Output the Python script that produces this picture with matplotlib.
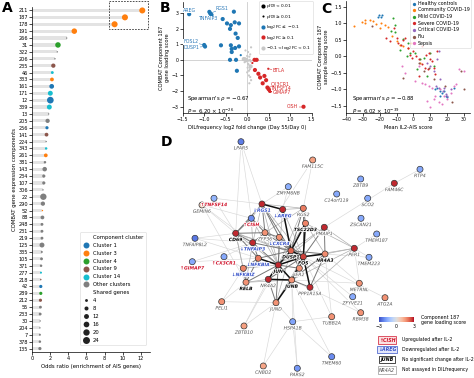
"""Four-panel figure: component enrichment (A), gene/sample loading scatters (B, C)
and the component 187 gene network (D). Saved as out.png (474x378 px)."""
import matplotlib

matplotlib.use("Agg")
import matplotlib.pyplot as plt
import matplotlib.patheffects as pe
from matplotlib.lines import Line2D
from matplotlib.patches import Rectangle
from matplotlib.cm import ScalarMappable
from matplotlib.colors import Normalize
import numpy as np

W, H = 474, 378

# ---------------- panel A: odds ratio per component
COMPONENTS = [211, 187, 178, 191, 266, 31, 322, 206, 235, 46, 333, 161, 171, 12, 339, 13, 205,
              256, 141, 224, 343, 261, 381, 143, 234, 107, 306, 22, 290, 52, 88, 248, 231, 219,
              125, 335, 105, 371, 277, 218, 42, 289, 212, 55, 233, 30, 204, 7, 378, 135]
ODDS = [12.15, 10.24, 9.1, 4.66, 3.82, 2.86, 2.79, 2.53, 2.35, 2.24, 2.2, 2.17, 2.02, 2.02, 1.91,
        1.83, 1.72, 1.65, 1.6, 1.56, 1.56, 1.52, 1.43, 1.4, 1.3, 1.3, 1.21, 1.25, 1.2, 1.15, 1.15,
        1.1, 1.1, 1.1, 1.1, 1.08, 1.05, 1.0, 0.99, 0.97, 0.97, 0.97, 0.93, 0.93, 0.9, 0.9, 0.87,
        0.87, 0.87, 0.87]
CLUSTER = ["3", "3", "3", "3", "o", "4", "o", "o", "9", "14", "3", "1", "14", "1", "14", "o", "o",
           "1", "9", "o", "14", "3", "o", "o", "o", "o", "o", "o", "o", "3", "o", "o", "o", "o",
           "o", "o", "o", "o", "14", "9", "1", "4", "9", "o", "o", "o", "o", "o", "o", "o"]
SHARED = [18, 18, 18, 15, 1, 15, 1, 1, 9, 4, 7, 11, 12, 22, 12, 1, 9, 5, 7, 1, 3, 7, 3, 10, 5, 5,
          1, 20, 9, 1, 7, 4, 4, 4, 12, 2, 4, 3, 2, 1, 5, 5, 5, 4, 4, 1, 1, 2, 3, 5]
CLUSTER_NAMES = {"1": "Cluster 1", "3": "Cluster 3", "4": "Cluster 4", "9": "Cluster 9",
                 "14": "Cluster 14", "o": "Other clusters"}
CLUSTER_COLORS = {"1": "#1f77b4", "3": "#ff7f0e", "4": "#2ca02c", "9": "#8c564b",
                  "14": "#17becf", "o": "#7f7f7f"}
SHARED_LEGEND = [4, 8, 12, 16, 20, 24]

# ---------------- panel B: fold change vs gene loading
B_X = [-1.35, -0.88, -0.86, -0.83, -0.31, -0.57, -0.47, -0.38, -0.29, -0.19, -0.40, -0.27, -0.22,
       -1.0, -0.98, -0.61, -0.38, -0.36, -0.36, -0.28, -0.19, -0.40, -0.26, -0.24, -0.15,
       0.17, 0.22, 0.08, 0.18, 0.26, 0.30, 0.40, 0.44, 0.47, 0.50, 0.53, 1.31, 0.36, 0.49, 0.12,
       0.02, 0.05, -0.05, 0.08, 0.03, 0.06, 0.0, 0.04, 0.09, -0.02, -0.08, 0.07, 0.01, 0.05,
       -0.06, 0.09, 0.03, -0.03, 0.06, -0.09, 0.0, 0.04, 0.07, -0.04, 0.02]
B_Y = [2.92, 3.07, 2.97, 2.88, 3.08, 2.61, 2.33, 2.22, 2.4, 2.33, 1.98, 1.68, 1.4,
       0.95, 0.85, 0.93, 0.93, 0.7, 0.5, 0.76, 0.86, 0.0, 0.0, -0.7, 0.3,
       0.0, 0.0, -0.42, -0.65, -0.89, -1.13, -1.03, -1.3, -1.77, -1.88, -1.99, -3.0, -1.5, -0.57,
       -0.2,
       0.5, 0.2, 0.1, -0.1, -0.3, -0.6, -0.8, -1.0, -1.3, 0.0, 0.05, 0.35, -0.5, -1.5,
       -0.15, 0.8, -0.05, -0.1, 0.0, 0.0, 0.25, -0.7, -1.1, 0.6, -0.25]
B_SIG = [1] * 24 + [0] + [1] * 13 + [0, 0] + [0] * 9 + [1, 1] + [0] * 14
B_LABELS = [("AREG", -1.35, 2.92, -1.33, 3.17), ("RGS1", -0.86, 2.98, -0.58, 3.27),
            ("TNFAIP3", -0.85, 2.93, -0.9, 2.63), ("FOSL2", -1.0, 0.95, -1.3, 1.15),
            ("DUSP1", -0.98, 0.85, -1.29, 0.78), ("BTLA", 0.49, -0.57, 0.72, -0.7),
            ("CX3CR1", 0.47, -1.77, 0.78, -1.6), ("TNFSF14", 0.50, -1.88, 0.8, -1.84),
            ("GIMAP7", 0.53, -1.99, 0.8, -2.08), ("CISH", 1.31, -3.0, 1.06, -3.0)]

# ---------------- panel C: IL2-AIS vs sample loading, by group
C_GROUPS = ["Healthy controls", "Community COVID-19", "Mild COVID-19", "Severe COVID-19",
            "Critical COVID-19", "Flu", "Sepsis"]
C_COLORS = ["#1f77b4", "#ff7f0e", "#2ca02c", "#d62728", "#9467bd", "#8c564b", "#e377c2"]
C_X = [
    [-20.5, -19.5, -18.5, -21, 14, 15.5, 17, 18, 16, 13, 19, 20, 24],
    [-35.5, -30.5, -29, -28.5, -26, -24, -22.5, -19, -17, -15, -13, -8, -6, -3, -1.5, -20, 4, -10],
    [-12, -11, -13.5, -11, -6, -3.5, -2, 1, 4, 6, 10, 12, -8, 2, -4, 8],
    [-11.5, -16, -9, -7.5, -6, -5, -3, -2, 1.5, 3.5, 5, 7, 8.5, 10, 12, 14, 5, -1, 9, 11, 13, 3,
     -14, -10, 0, 7.5],
    [8, 10, 12, 15, 14, 16, 18, 17.5, 19, 13.5, 20, 22, 15],
    [-24.5, 3, 6, 9, 18.5, 28, 23, 30, -6, 12],
    [-5, 1, 5, 7, 9, 11, 13, 15, 17, 20, 22, 25, 27, 30, 8, 12, 18, 24, 3, -7, 10, 16],
]
C_Y = [
    [1.25, 1.2, 1.25, 1.18, -0.95, -1.05, -1.1, -1.05, -1.2, -1.0, -1.2, -1.25, -0.95],
    [0.92, 1.04, 1.01, 1.1, 1.08, 1.05, 0.98, 1.0, 0.95, 0.88, 0.6, 0.35, 0.3, 0.25, 0.4, 0.85,
     -0.2, 0.45],
    [1.15, 0.95, 0.75, 0.73, 0.52, 0.4, 0.1, 0.1, -0.1, -0.05, 0.1, -0.3, 0.2, -0.4, 0.0, -0.6],
    [0.85, 0.55, 0.4, 0.35, 0.5, 0.55, 0.25, 0.05, 0.0, -0.1, -0.25, -0.35, -0.4, -0.1, -0.35,
     0.15, 0.3, -0.05, 0.1, -0.15, -0.55, -0.6, 0.45, 0.55, 0.15, 0.05],
    [-0.2, -0.3, -0.45, 0.15, -0.1, -0.7, -0.95, -1.05, -1.15, -0.9, -1.2, -1.0, -0.95],
    [0.9, -0.2, -0.45, -0.35, -0.9, -0.45, -1.4, -1.0, -0.65, -0.7],
    [-0.5, -0.75, -0.8, -0.85, -0.9, -0.95, -1.2, -1.4, -1.45, -1.3, -1.1, -0.85, -0.4, -0.45,
     -1.35, -1.3, -1.2, -0.9, -0.3, -0.3, -1.55, -1.0],
]

# ---------------- panel D: network (layout in figure pixels)
GENES = ["LPAR5", "FAM115C", "ZMYM6NB", "TNFSF14", "GEMIN6", "RGS1", "AREG", "RGS2", "CISH",
         "TNFAIP8L2", "CD69", "ZFP36", "TSC22D3", "PMAIP1", "CXCR4", "TNFAIP3", "DUSP1", "FOS",
         "NR4A3", "PER1", "NFKBIA", "NFKBIZ", "GIMAP7", "CX3CR1", "JUN", "IER2", "NR4A2", "JUNB",
         "RELB", "PPP1R15A", "PELI1", "JUND", "ZBTB10", "HSPA1B", "CNBD2", "PARS2", "TUBB2A",
         "RBM38", "ATG2A", "METRNL", "ZFYVE21", "TMEM60", "TMEM223", "TMEM187", "ZSCAN21",
         "SCO2", "C14orf119", "ZBTB9", "FAM46C", "RTP4"]
NODE_X = [241, 312.7, 288.3, 214, 202, 262, 282.7, 303.3, 251.3, 195, 235.7, 265, 305.5, 324.3,
          279.3, 252.7, 291, 303.3, 325, 354.3, 258.3, 243.3, 192.3, 224, 278.3, 299.3, 268.3,
          291.7, 246, 310, 221.7, 276, 244, 292.7, 263.3, 297.3, 331.7, 360.7, 385, 359.3, 352.7,
          331.7, 369, 376.7, 361, 367.7, 336.7, 360.7, 394.3, 420]
NODE_Y = [141.7, 160, 186.7, 198.3, 205, 204, 209.5, 208.3, 218.3, 238.3, 233.3, 232.7, 223.3,
          227.3, 237.3, 242.7, 250.7, 256.7, 254, 248.3, 258.3, 268.3, 261.7, 256.7, 265, 268.3,
          279.3, 280, 282.3, 287.3, 301.7, 302.7, 326, 321.7, 366, 368.3, 316.7, 312.7, 297.7,
          283.3, 296.7, 356.7, 257.3, 234, 218.3, 198.3, 194, 179, 183.3, 169.3]
NODE_SCORE = [-2.3, 1.4, -1.5, -1.4, 0.6, 2.8, 2.8, 1.9, -2.1, -2.4, 2.8, 1.6, 1.8, 2.8, 1.6,
              2.8, 2.2, 2.6, 1.7, 2.8, 1.9, 1.8, -1.6, -1.6, 2.8, 1.6, 2.8, 1.6, 1.6, 2.8, 1.6,
              1.6, 1.4, -1.7, 1.3, -1.9, 1.6, 1.6, 1.6, 1.6, -1.6, -2.1, -1.6, -1.6, -1.6, -1.6,
              -1.6, -1.6, 2.8, -1.6]
NODE_STATUS = ["na", "na", "na", "up", "na", "down", "down", "na", "up", "na", "ns", "na", "ns",
               "na", "down", "down", "ns", "ns", "ns", "na", "down", "down", "up", "up", "ns",
               "na", "na", "ns", "ns", "na", "na", "na", "na", "na", "na", "na", "na", "na", "na",
               "na", "na", "na", "na", "na", "na", "na", "na", "na", "na", "na"]
EDGES_STRONG = [("RGS1", "AREG"), ("AREG", "DUSP1"), ("DUSP1", "FOS"), ("JUN", "FOS"),
                ("JUN", "JUNB"), ("JUNB", "JUND"), ("JUN", "NR4A2"), ("FOS", "JUNB"),
                ("DUSP1", "JUN"), ("TSC22D3", "DUSP1"), ("FOS", "PPP1R15A"), ("JUN", "NFKBIA"),
                ("NR4A2", "JUNB"), ("FOS", "NR4A3"), ("TSC22D3", "FOS")]
EDGES_MEDIUM = [("CD69", "TNFAIP3"), ("CD69", "NFKBIA"), ("CD69", "ZFP36"), ("RGS1", "CXCR4"),
                ("RGS1", "ZFP36"), ("RGS1", "DUSP1"), ("CISH", "ZFP36"), ("ZFP36", "CXCR4"),
                ("ZFP36", "DUSP1"), ("CXCR4", "DUSP1"), ("CXCR4", "JUN"), ("TNFAIP3", "NFKBIA"),
                ("TNFAIP3", "JUN"), ("NFKBIA", "NFKBIZ"), ("NFKBIZ", "RELB"), ("RELB", "NFKBIA"),
                ("RELB", "JUN"), ("NFKBIA", "DUSP1"), ("RGS2", "DUSP1"), ("RGS2", "TSC22D3"),
                ("RGS2", "FOS"), ("PMAIP1", "NR4A3"), ("PMAIP1", "FOS"), ("NR4A3", "DUSP1"),
                ("NR4A3", "JUNB"), ("IER2", "JUN"), ("IER2", "FOS"), ("IER2", "DUSP1"),
                ("IER2", "JUNB"), ("PPP1R15A", "JUNB"), ("PPP1R15A", "NR4A3"),
                ("JUND", "NR4A2"), ("JUND", "JUN"), ("CD69", "RGS1"), ("CD69", "CISH"),
                ("TNFAIP3", "DUSP1"), ("NR4A2", "FOS"), ("CXCR4", "FOS"), ("TNFAIP3", "ZFP36")]
EDGES_LIGHT = [("CD69", "JUN"), ("CD69", "FOS"), ("CD69", "DUSP1"), ("RGS1", "JUN"),
               ("RGS1", "FOS"), ("RGS1", "TNFAIP3"), ("CISH", "DUSP1"), ("CISH", "JUN"),
               ("CISH", "TNFAIP3"), ("AREG", "JUN"), ("AREG", "FOS"), ("RGS2", "JUN"),
               ("RGS2", "ZFP36"), ("TSC22D3", "JUN"), ("TSC22D3", "NR4A3"), ("PER1", "NR4A3"),
               ("PER1", "FOS"), ("PER1", "TSC22D3"), ("PER1", "PMAIP1"), ("PER1", "JUNB"),
               ("PER1", "PPP1R15A"), ("RELB", "JUNB"), ("NFKBIZ", "JUN"), ("NFKBIZ", "FOS"),
               ("NR4A2", "RELB"), ("JUND", "FOS"), ("JUND", "DUSP1"), ("PMAIP1", "DUSP1"),
               ("PMAIP1", "JUN"), ("RGS1", "RGS2"), ("AREG", "RGS2"), ("CD69", "RELB"),
               ("CD69", "NFKBIZ"), ("TNFAIP3", "RELB"), ("ZFP36", "JUN"), ("CISH", "RGS1")]
EDGES_FAINT = [("LPAR5", "RGS1"), ("LPAR5", "CD69"), ("FAM115C", "RGS2"), ("FAM115C", "ZFP36"),
               ("ZMYM6NB", "RGS1"), ("TNFSF14", "CD69"), ("TNFSF14", "RGS1"), ("GEMIN6", "CD69"),
               ("GEMIN6", "RELB"), ("TNFAIP8L2", "CD69"), ("TNFAIP8L2", "TNFAIP3"),
               ("GIMAP7", "NFKBIA"), ("GIMAP7", "TNFAIP3"), ("CX3CR1", "NFKBIZ"),
               ("CX3CR1", "TNFAIP3"), ("PELI1", "RELB"), ("PELI1", "NFKBIZ"), ("PELI1", "JUND"),
               ("ZBTB10", "JUND"), ("ZBTB10", "JUN"), ("HSPA1B", "JUND"), ("HSPA1B", "JUNB"),
               ("HSPA1B", "TUBB2A"), ("CNBD2", "JUND"), ("PARS2", "HSPA1B"), ("PARS2", "JUNB"),
               ("TUBB2A", "FOS"), ("TUBB2A", "NR4A3"), ("METRNL", "PER1"), ("METRNL", "NR4A3"),
               ("METRNL", "JUNB"), ("RBM38", "JUNB"), ("ZFYVE21", "METRNL"),
               ("TMEM60", "HSPA1B"), ("TMEM223", "PER1"), ("PMAIP1", "FAM46C"),
               ("FAM46C", "RTP4"), ("ATG2A", "FOS"), ("TMEM187", "PER1"), ("GEMIN6", "TNFAIP3"),
               ("CISH", "LPAR5"), ("RBM38", "FOS"), ("TMEM60", "JUNB"), ("ZMYM6NB", "AREG"),
               ("TNFAIP8L2", "NFKBIA"), ("GEMIN6", "CISH"), ("ZBTB10", "NR4A2"),
               ("CNBD2", "HSPA1B"), ("ZFYVE21", "FOS"), ("TMEM223", "NR4A3")]
LABEL_COLORS = {"up": "#d0142c", "down": "#3853c8", "ns": "black", "na": "#505050"}


def px_axes(fig, x0, y0, x1, y1):
    return fig.add_axes([x0 / W, 1 - y1 / H, (x1 - x0) / W, (y1 - y0) / H])


def style_axes(ax, fs=3.4):
    for side in ("top", "right"):
        ax.spines[side].set_visible(False)
    for side in ("left", "bottom"):
        ax.spines[side].set_linewidth(0.5)
    ax.tick_params(labelsize=fs, length=2, width=0.5, pad=1)


def main():
    fig = plt.figure(figsize=(W / 100, H / 100), dpi=100)

    # ---- A
    ax = px_axes(fig, 32, 7, 150, 352)
    n = len(COMPONENTS)
    y = np.arange(n)
    ax.barh(y, ODDS, height=0.45, color="#e3e3e3", zorder=1)
    ax.scatter(ODDS, y, s=np.array(SHARED) * 1.05, c=[CLUSTER_COLORS[c] for c in CLUSTER],
               lw=0, zorder=3)
    ax.set_ylim(n - 0.5, -0.5)
    ax.set_yticks(y, [str(c) for c in COMPONENTS])
    ax.set_xlim(0, 13)
    ax.set_xticks(range(0, 13, 2))
    style_axes(ax, 3.6)
    ax.set_xlabel("Odds ratio (enrichment of AIS genes)", fontsize=3.9, labelpad=2)
    ax.set_ylabel("COMBAT gene expression components", fontsize=3.9, labelpad=1)
    ax.add_patch(Rectangle((8.5, -1.3), 4.3, 4.05, fill=False, ls=(0, (2, 1.5)), lw=0.6,
                           ec="#333333", clip_on=False, zorder=4))
    handles = [Line2D([], [], ls="none", label="Component cluster")]
    for key in ["1", "3", "4", "9", "14", "o"]:
        handles.append(Line2D([], [], ls="none", marker="o", ms=4.3, mew=0,
                              color=CLUSTER_COLORS[key], label=CLUSTER_NAMES[key]))
    handles.append(Line2D([], [], ls="none", label="Shared genes"))
    for g in SHARED_LEGEND:
        handles.append(Line2D([], [], ls="none", marker="o", ms=np.sqrt(g * 1.05), mew=0,
                              color="#222222", label=str(g)))
    ax.legend(handles=handles, loc="lower right", bbox_to_anchor=(0.985, 0.012), fontsize=3.8,
              frameon=True, edgecolor="#cccccc", fancybox=True, handletextpad=0.6,
              labelspacing=0.55, borderpad=0.5, handlelength=1.2).get_frame().set_linewidth(0.4)

    # ---- B
    ax = px_axes(fig, 182.7, 2, 311.7, 113)
    bx, by, bs = np.array(B_X), np.array(B_Y), np.array(B_SIG, dtype=bool)
    bcol = np.where(bx <= -0.1, "#1f77b4", np.where(bx >= 0.1, "#d62728", "#c8c8c8"))
    ax.axhline(0, color="#cccccc", lw=0.6, zorder=0)
    ax.axvline(0, color="#cccccc", lw=0.6, zorder=0)
    ax.scatter(bx[bs], by[bs], s=9, c=bcol[bs], lw=0, zorder=3)
    ax.scatter(bx[~bs], by[~bs], s=2.5, c=bcol[~bs], lw=0, zorder=2)
    for name, px_, py_, tx, ty in B_LABELS:
        col = "#2a78b8" if px_ < 0 else "#d62728"
        ax.plot([px_, tx], [py_, ty], color=col, lw=0.35, zorder=2)
        ax.text(tx, ty, name, color=col, fontsize=3.4, ha="center", va="center",
                bbox=dict(fc="white", ec="none", pad=0.2), zorder=4)
    ax.set_xlim(-1.5, 1.5)
    ax.set_ylim(-3.4, 3.7)
    ax.set_xticks([-1.5, -1.0, -0.5, 0.0, 0.5, 1.0, 1.5])
    ax.set_yticks(range(-3, 4))
    style_axes(ax)
    ax.set_xlabel("DILfrequency log2 fold change (Day 55/Day 0)", fontsize=3.7, labelpad=2)
    ax.set_ylabel("COMBAT Component 187\ngene loading score", fontsize=3.7, labelpad=1)
    ax.text(-1.41, -2.2, "Spearman's $\\rho$ = $-$0.67\n$P$ = 6.20 $\\times$ 10$^{-26}$",
            fontsize=3.9, va="top", linespacing=1.5)
    bh = [Line2D([], [], ls="none", marker="o", ms=3.0, mew=0, color="black",
                 label=r"$p_\mathrm{FDR}<0.01$"),
          Line2D([], [], ls="none", marker="o", ms=1.5, mew=0, color="black",
                 label=r"$p_\mathrm{FDR}\geq0.01$"),
          Line2D([], [], ls="none", marker="o", ms=3.0, mew=0, color="#1f77b4",
                 label=r"$\log_2\mathrm{FC}\leq-0.1$"),
          Line2D([], [], ls="none", marker="o", ms=3.0, mew=0, color="#d62728",
                 label=r"$\log_2\mathrm{FC}\geq0.1$"),
          Line2D([], [], ls="none", marker="o", ms=3.0, mew=0, color="#c8c8c8",
                 label=r"$-0.1<\log_2\mathrm{FC}<0.1$")]
    ax.legend(handles=bh, loc="upper right", bbox_to_anchor=(1.015, 1.02), fontsize=3.2,
              edgecolor="#cccccc", handletextpad=0.3, labelspacing=0.55, borderpad=0.4,
              handlelength=0.9, borderaxespad=0.2).get_frame().set_linewidth(0.4)

    # ---- C
    ax = px_axes(fig, 346, 1, 470, 113)
    for name, col, xs, ys in zip(C_GROUPS, C_COLORS, C_X, C_Y):
        ax.scatter(xs, ys, s=2.2, color=col, lw=0, label=name)
    ax.set_xlim(-40, 33.5)
    ax.set_ylim(-1.72, 1.67)
    ax.set_xticks(range(-40, 31, 10))
    ax.set_yticks([-1.5, -1.0, -0.5, 0.0, 0.5, 1.0, 1.5])
    style_axes(ax)
    ax.set_xlabel("Mean IL2-AIS score", fontsize=3.7, labelpad=2)
    ax.set_ylabel("COMBAT Component 187\nsample loading score", fontsize=3.7, labelpad=1)
    ax.text(-36.5, -1.15, "Spearman's $\\rho$ = $-$0.88\n$P$ = 6.02 $\\times$ 10$^{-39}$",
            fontsize=3.9, va="top", linespacing=1.5)
    ax.legend(loc="upper right", bbox_to_anchor=(1.03, 1.04), fontsize=3.4, markerscale=1.6,
              edgecolor="#cccccc", handletextpad=0.4, labelspacing=0.35, borderpad=0.4,
              handlelength=0.8).get_frame().set_linewidth(0.4)

    # ---- D
    ax = px_axes(fig, 160, 130, 474, 378)
    ax.set_xlim(160, 474)
    ax.set_ylim(378, 130)
    ax.axis("off")
    pos = {g: (x, yy) for g, x, yy in zip(GENES, NODE_X, NODE_Y)}
    for edges, col, lw, z in [(EDGES_FAINT, "#d8d8d8", 0.45, 1), (EDGES_LIGHT, "#b0b0b0", 0.5, 2),
                              (EDGES_MEDIUM, "#777777", 0.7, 3), (EDGES_STRONG, "#111111", 1.1, 4)]:
        for a, b in edges:
            ax.plot([pos[a][0], pos[b][0]], [pos[a][1], pos[b][1]], color=col, lw=lw, zorder=z,
                    solid_capstyle="round")
    norm = Normalize(-3, 3)
    ax.scatter(NODE_X, NODE_Y, s=19, c=NODE_SCORE, cmap="coolwarm", norm=norm,
               edgecolors="#333333", linewidths=0.5, zorder=6)
    halo = [pe.withStroke(linewidth=1.2, foreground="white")]
    for g, x, yy, st in zip(GENES, NODE_X, NODE_Y, NODE_STATUS):
        if st == "up":
            txt, kw = "\u2191" + g, dict(fontweight="bold", fontstyle="italic")
        elif st == "down":
            txt, kw = "\u2193" + g, dict(fontweight="bold", fontstyle="italic")
        elif st == "ns":
            txt, kw = g, dict(fontweight="bold", fontstyle="italic")
        else:
            txt, kw = g, dict(fontstyle="italic")
        ax.text(x, yy + 6.3, txt, color=LABEL_COLORS[st], fontsize=3.3, ha="center",
                va="center", path_effects=halo, zorder=7, **kw)

    cax = px_axes(fig, 379, 317, 414, 322)
    cb = fig.colorbar(ScalarMappable(norm=norm, cmap="coolwarm"), cax=cax,
                      orientation="horizontal", ticks=[-3, 0, 3])
    cb.outline.set_visible(False)
    cax.tick_params(labelsize=3.4, length=0, pad=1.5)
    fig.text(421 / W, 1 - 320 / H, "Component 187\ngene loading score", fontsize=3.4,
             va="center", ha="left")

    key = [("\u2191CISH", LABEL_COLORS["up"], "#fbe2e2", LABEL_COLORS["up"], "bold",
            "Upregulated after IL-2", 340),
           ("\u2193AREG", LABEL_COLORS["down"], "#e2e6fb", LABEL_COLORS["down"], "bold",
            "Downregulated after IL-2", 349.5),
           ("JUNB", "black", "white", "black", "bold", "No significant change after IL-2", 359.5),
           ("NR4A2", "#505050", "white", "#999999", "normal", "Not assayed in DILfrequency", 370)]
    for lab, tc, fc, ec, fw, desc, yy in key:
        fig.text(387 / W, 1 - yy / H, lab, color=tc, fontsize=3.4, fontweight=fw,
                 fontstyle="italic", ha="center", va="center",
                 bbox=dict(boxstyle="square,pad=0.25", fc=fc, ec=ec, lw=0.5))
        fig.text(402 / W, 1 - yy / H, desc, fontsize=3.3, ha="left", va="center")

    for letter, x, yy in [("A", 2, 8), ("B", 160, 8), ("C", 321, 9), ("D", 161, 142)]:
        fig.text(x / W, 1 - yy / H, letter, fontsize=10, fontweight="bold", va="center")

    fig.savefig("out.png", dpi=100)


if __name__ == "__main__":
    main()
